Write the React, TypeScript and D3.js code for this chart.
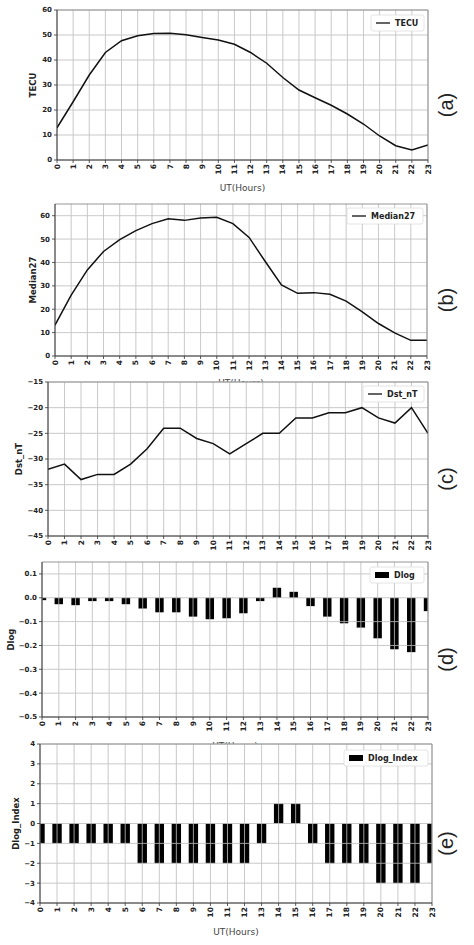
import * as d3 from "d3"

// hours on the x axis of every panel
const hours = d3.range(0, 24)

// (a) TECU
const tecu = [12.9, 23.3, 34, 43, 47.7, 49.7, 50.6, 50.7, 50.1, 49, 48, 46.3, 43, 38.7, 33, 28, 24.9, 21.9, 18.4, 14.4, 9.6, 5.7, 4, 6]
// (b) Median27
const median27 = [13.2, 26, 36.8, 44.7, 49.8, 53.6, 56.6, 58.7, 58, 59, 59.3, 56.6, 50.7, 40.4, 30.4, 26.8, 27.1, 26.4, 23.5, 18.9, 13.9, 9.9, 6.7, 6.7]
// (c) Dst_nT
const dst = [-32, -31, -34, -33, -33, -31, -28, -24, -24, -26, -27, -29, -27, -25, -25, -22, -22, -21, -21, -20, -22, -23, -20, -25]
// (d) Dlog
const dlog = [-0.01, -0.027, -0.031, -0.014, -0.014, -0.027, -0.045, -0.061, -0.061, -0.079, -0.09, -0.086, -0.065, -0.014, 0.042, 0.025, -0.035, -0.079, -0.107, -0.125, -0.17, -0.216, -0.228, -0.056]
// (e) Dlog_Index
const dlogIndex = [-1, -1, -1, -1, -1, -1, -2, -2, -2, -2, -2, -2, -2, -1, 1, 1, -1, -2, -2, -2, -3, -3, -3, -2]

const ticksA = [0, 10, 20, 30, 40, 50, 60]
const ticksB = [0, 10, 20, 30, 40, 50, 60]
const ticksC = [-45, -40, -35, -30, -25, -20, -15]
const ticksD = [-0.5, -0.4, -0.3, -0.2, -0.1, 0.0, 0.1]
const ticksE = [-4, -3, -2, -1, 0, 1, 2, 3, 4]

type Panel = {
  id: string
  kind: "line" | "bar"
  values: number[]
  name: string
  tag: string
  left: number
  right: number
  top: number
  bottom: number
  domain: [number, number]
  ticks: number[]
  fmt: (v: number) => string
  yLabelX: number
  legendW: number
  legendDy: number
  hoursY: number
  barW: number
}

const fmtInt = (v: number) => (v < 0 ? "\u2212" + Math.abs(v) : String(v))
const fmt1 = (v: number) => (v < 0 ? "\u2212" + Math.abs(v).toFixed(1) : v.toFixed(1))

const panels: Panel[] = [
  {id: "a", kind: "line", values: tecu, name: "TECU", tag: "(a)", left: 57, right: 428, top: 10, bottom: 160, domain: [0, 60], ticks: ticksA, fmt: fmtInt, yLabelX: 33, legendW: 53, legendDy: 5, hoursY: 191, barW: 0},
  {id: "b", kind: "line", values: median27, name: "Median27", tag: "(b)", left: 55, right: 427, top: 204, bottom: 356, domain: [0, 65], ticks: ticksB, fmt: fmtInt, yLabelX: 33, legendW: 76, legendDy: 4, hoursY: 386, barW: 0},
  {id: "c", kind: "line", values: dst, name: "Dst_nT", tag: "(c)", left: 48, right: 428, top: 382, bottom: 536, domain: [-45, -15], ticks: ticksC, fmt: fmtInt, yLabelX: 19, legendW: 61, legendDy: 4, hoursY: 570, barW: 0},
  {id: "d", kind: "bar", values: dlog, name: "Dlog", tag: "(d)", left: 42, right: 428, top: 562, bottom: 717, domain: [-0.5, 0.15], ticks: ticksD, fmt: fmt1, yLabelX: 11, legendW: 54, legendDy: 5, hoursY: 749, barW: 0.5},
  {id: "e", kind: "bar", values: dlogIndex, name: "Dlog_Index", tag: "(e)", left: 40, right: 432, top: 744, bottom: 903, domain: [-4, 4], ticks: ticksE, fmt: fmtInt, yLabelX: 16, legendW: 84, legendDy: 6, hoursY: 935, barW: 0.55},
]

const font = "DejaVu Sans, sans-serif"

function PanelView({p}: {p: Panel}) {
  const x = d3.scaleLinear().domain([0, 23]).range([p.left, p.right])
  const y = d3.scaleLinear().domain(p.domain).range([p.bottom, p.top])
  const line = d3
    .line<number>()
    .x((_, i) => x(hours[i]))
    .y((v) => y(v))
  const clipId = `clip-${p.id}`
  const bw = x(p.barW) - x(0)
  const lx = p.right - 4 - p.legendW
  const ly = p.top + p.legendDy
  const midY = (p.top + p.bottom) / 2
  return (
    <g>
      <defs>
        <clipPath id={clipId}>
          <rect x={p.left} y={p.top} width={p.right - p.left} height={p.bottom - p.top} />
        </clipPath>
      </defs>
      <rect x={p.left} y={p.top} width={p.right - p.left} height={p.bottom - p.top} fill="#fff" />
      {/* bars sit below the grid */}
      {p.kind === "bar" && (
        <g clipPath={`url(#${clipId})`}>
          {p.values.map((v, i) => (
            <rect
              key={i}
              x={x(hours[i]) - bw / 2}
              width={bw}
              y={y(Math.max(0, v))}
              height={Math.abs(y(v) - y(0))}
              fill="#000"
            />
          ))}
        </g>
      )}
      <g stroke="#bdbdbd" strokeWidth={0.9} opacity={0.9}>
        {hours.map((h) => (
          <line key={h} x1={x(h)} x2={x(h)} y1={p.top} y2={p.bottom} />
        ))}
        {p.ticks.map((t) => (
          <line key={t} x1={p.left} x2={p.right} y1={y(t)} y2={y(t)} />
        ))}
      </g>
      {p.kind === "line" && (
        <path d={line(p.values) ?? ""} fill="none" stroke="#111" strokeWidth={1.5} clipPath={`url(#${clipId})`} />
      )}
      {/* frame */}
      <line x1={p.left} x2={p.right} y1={p.top} y2={p.top} stroke="#8a8a8a" strokeWidth={0.9} />
      <line x1={p.right} x2={p.right} y1={p.top} y2={p.bottom} stroke="#8a8a8a" strokeWidth={0.9} />
      <line x1={p.left} x2={p.left} y1={p.top} y2={p.bottom} stroke="#333" strokeWidth={1} />
      <line x1={p.left} x2={p.right} y1={p.bottom} y2={p.bottom} stroke="#333" strokeWidth={1} />
      {/* y ticks */}
      {p.ticks.map((t) => (
        <g key={t}>
          <line x1={p.left - 3} x2={p.left} y1={y(t)} y2={y(t)} stroke="#333" strokeWidth={0.8} />
          <text x={p.left - 5} y={y(t)} dy="0.35em" textAnchor="end" fontSize={7} fontWeight="bold" fill="#222" fontFamily={font}>
            {p.fmt(t)}
          </text>
        </g>
      ))}
      {/* x ticks */}
      {hours.map((h) => (
        <g key={h}>
          <line x1={x(h)} x2={x(h)} y1={p.bottom} y2={p.bottom + 3} stroke="#333" strokeWidth={0.8} />
          <text
            transform={`translate(${x(h)},${p.bottom + 4}) rotate(-90)`}
            dy="0.35em"
            textAnchor="end"
            fontSize={7.5}
            fontWeight="bold"
            fill="#222"
            fontFamily={font}
          >
            {h}
          </text>
        </g>
      ))}
      <text
        transform={`translate(${p.yLabelX},${midY}) rotate(-90)`}
        textAnchor="middle"
        dy="0.35em"
        fontSize={8.5}
        fontWeight="bold"
        fill="#222"
        fontFamily={font}
      >
        {p.name}
      </text>
      {/* legend */}
      <rect x={lx} y={ly} width={p.legendW} height={16} rx={2} fill="#fff" stroke="#ddd" strokeWidth={0.8} />
      {p.kind === "line" ? (
        <line x1={lx + 5} x2={lx + 19} y1={ly + 8} y2={ly + 8} stroke="#222" strokeWidth={1.4} />
      ) : (
        <rect x={lx + 5} y={ly + 5} width={14} height={6} fill="#000" />
      )}
      <text x={lx + 24} y={ly + 8} dy="0.35em" fontSize={8} fontWeight="bold" fill="#222" fontFamily={font}>
        {p.name}
      </text>
      <text
        transform={`translate(${446},${(p.top + p.bottom) / 2 + 20}) rotate(-90)`}
        textAnchor="middle"
        dy="0.35em"
        fontSize={20}
        fill="#222"
        fontFamily="Liberation Sans, sans-serif"
      >
        {p.tag}
      </text>
    </g>
  )
}

function HoursLabel({p}: {p: Panel}) {
  return (
    <text x={(p.left + p.right) / 2} y={p.hoursY} textAnchor="middle" fontSize={9} fill="#444" fontFamily={font}>
      UT(Hours)
    </text>
  )
}

export default function App() {
  return (
    <div style={{position: "absolute", left: 0, top: 0}}>
      <svg width={474} height={945} style={{display: "block", background: "#fff"}}>
        {panels.map((p) => (
          <g key={p.id}>
            <HoursLabel p={p} />
            <PanelView p={p} />
          </g>
        ))}
      </svg>
    </div>
  )
}
